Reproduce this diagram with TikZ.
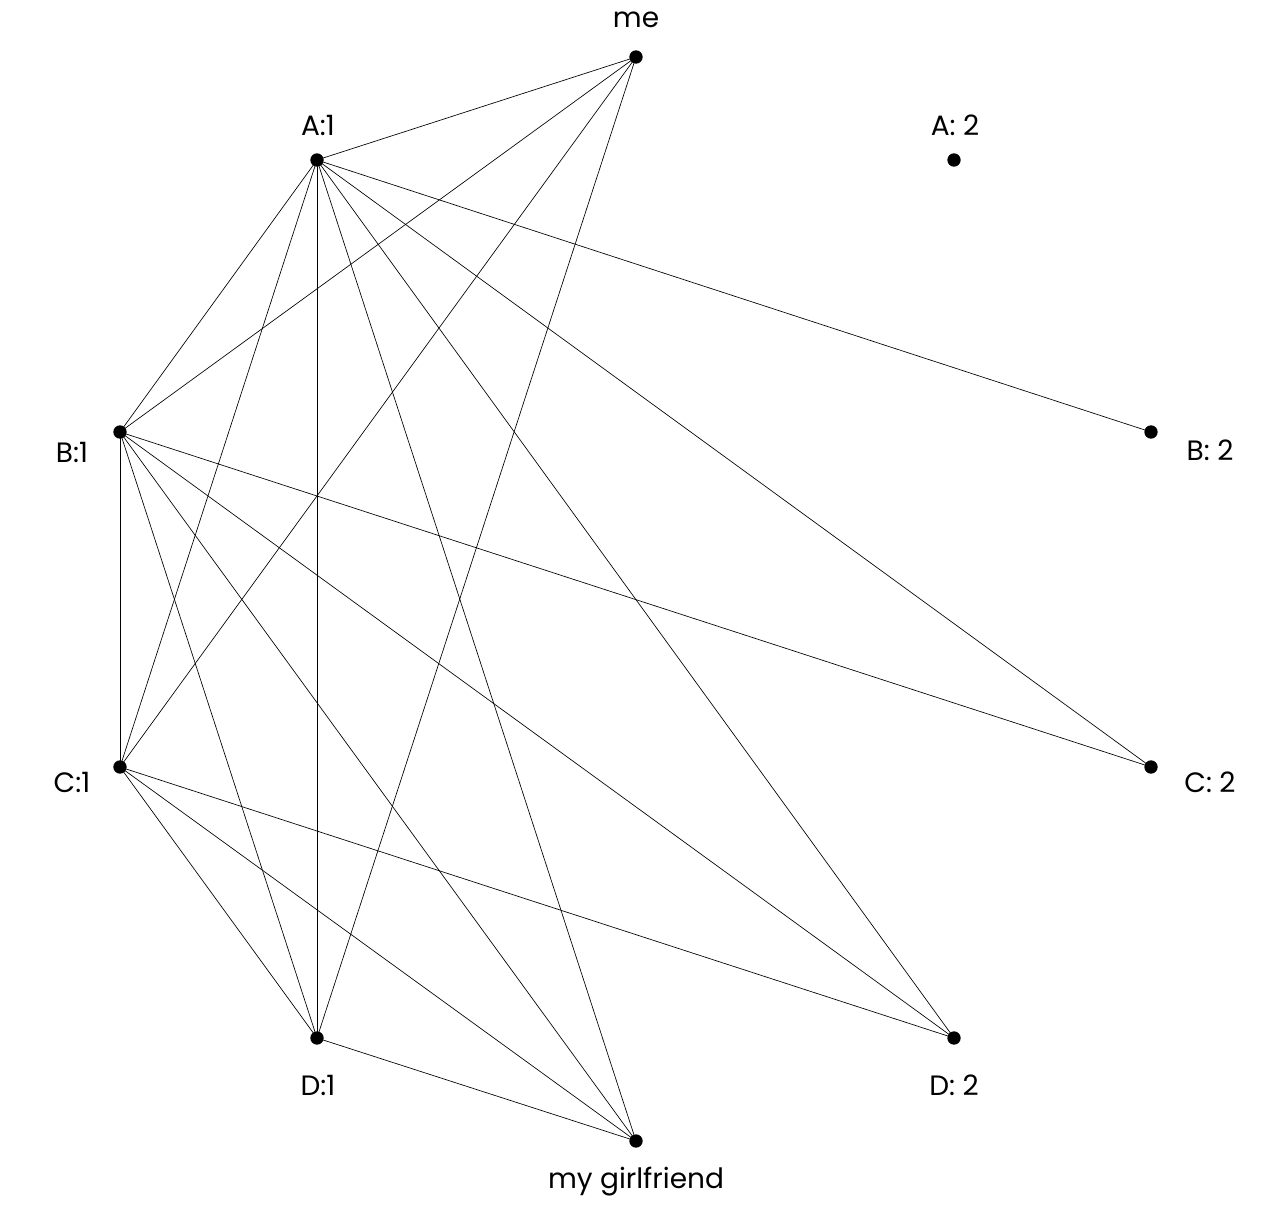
\documentclass[tikz,border=0pt]{standalone}
\usepackage{fontspec}
\setmainfont{Poppins}
\begin{document}
\begin{tikzpicture}[x=0.75pt,y=-0.75pt,
  dot/.style={circle,fill=black,inner sep=0pt,minimum size=10pt},
  lab/.style={font=\fontsize{21}{24}\selectfont,inner sep=0pt},
  edge/.style={line width=0.5pt}]
\useasboundingbox (0,0) rectangle (1280,1230);
\node[dot] (me) at (636,57) {};
\node[dot] (a1) at (317,160) {};
\node[dot] (a2) at (954,160) {};
\node[dot] (b1) at (120,432) {};
\node[dot] (b2) at (1151,432) {};
\node[dot] (c1) at (120,767) {};
\node[dot] (c2) at (1151,767) {};
\node[dot] (d1) at (317,1038) {};
\node[dot] (d2) at (954,1038) {};
\node[dot] (gf) at (636,1141) {};
\node[lab] (lme) at (636,20) {me};
\node[lab] (la1) at (318,125) {A:1};
\node[lab] (la2) at (955,125) {A: 2};
\node[lab] (lb1) at (72,452) {B:1};
\node[lab] (lb2) at (1210,450) {B: 2};
\node[lab] (lc1) at (72,782) {C:1};
\node[lab] (lc2) at (1210,782) {C: 2};
\node[lab] (ld1) at (318,1085) {D:1};
\node[lab] (ld2) at (954,1085) {D: 2};
\node[lab] (lgf) at (636,1182) {my girlfriend};
\foreach \u/\v in {me/a1,me/b1,me/c1,me/d1,
  a1/b1,a1/c1,a1/d1,a1/gf,a1/d2,a1/c2,a1/b2,
  b1/c1,b1/d1,b1/gf,b1/d2,b1/c2,
  c1/d1,c1/gf,c1/d2,d1/gf}
  \draw[edge] (\u.center) -- (\v.center);
\end{tikzpicture}
\end{document}
